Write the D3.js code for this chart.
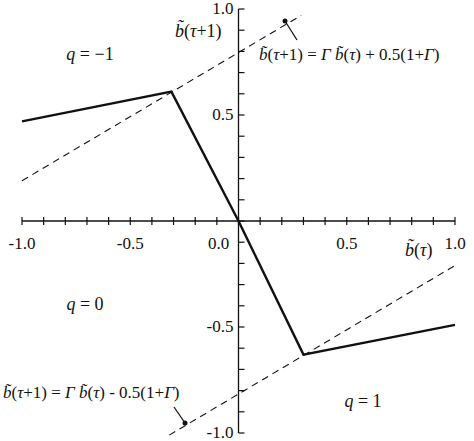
<!DOCTYPE html>
<html><head><meta charset="utf-8">
<script src="https://cdn.jsdelivr.net/npm/d3@7"></script>
<style>body{margin:0;background:#fff}text{font-family:"Liberation Serif","Times New Roman",serif;fill:#111}</style>
</head><body><svg id="c" width="474" height="441"></svg>
<script>
const solidX = [-1, -0.31, 0, 0.30, 1];
const solidY = [0.47, 0.61, 0, -0.63, -0.49];
const upperX = [-1, 0.29];
const upperY = [0.19, 0.97];
const lowerX = [-0.32, 1];
const lowerY = [-1.01, -0.21];
const xTickLabels = ["-1.0", "-0.5", "0.5", "1.0"];
const yTickLabels = ["1.0", "0.5", "-0.5", "-1.0"];

const svg = d3.select("#c");
const x = d3.scaleLinear().domain([-1, 1]).range([22, 455]);
const y = d3.scaleLinear().domain([-1, 1]).range([433, 9]);
const ink = "#111";

const line = d3.line().x(d => x(d[0])).y(d => y(d[1]));

// axes
svg.append("line").attr("x1", x(-1)).attr("x2", x(1)).attr("y1", y(0)).attr("y2", y(0)).attr("stroke", ink).attr("stroke-width", 1.3);
svg.append("line").attr("x1", x(0)).attr("x2", x(0)).attr("y1", y(1)).attr("y2", y(-1)).attr("stroke", ink).attr("stroke-width", 1.3);
const ticks = d3.range(-10, 11).map(i => i / 10);
svg.selectAll(".xt").data(ticks).join("line")
  .attr("x1", d => x(d)).attr("x2", d => x(d)).attr("y1", y(0) - 4).attr("y2", y(0) + 4)
  .attr("stroke", ink).attr("stroke-width", 1.2);
svg.selectAll(".yt").data(ticks).join("line")
  .attr("x1", x(0)).attr("x2", x(0) + 6)
  .attr("y1", d => y(d)).attr("y2", d => y(d)).attr("stroke", ink).attr("stroke-width", 1.2);
svg.selectAll(".xl").data(xTickLabels).join("text")
  .attr("x", d => x(+d)).attr("y", y(0) + 28).attr("text-anchor", "middle").attr("font-size", 17).text(d => d);
svg.append("text").attr("x", x(0) - 20).attr("y", y(0) + 28).attr("text-anchor", "middle").attr("font-size", 17).text("0.0");
svg.selectAll(".yl").data(yTickLabels).join("text")
  .attr("x", x(0) - 5).attr("y", d => y(+d) + 5).attr("text-anchor", "end").attr("font-size", 17).text(d => d);

// lines
svg.append("path").datum(upperX.map((v, i) => [v, upperY[i]])).attr("d", line)
  .attr("fill", "none").attr("stroke", ink).attr("stroke-width", 1.1).attr("stroke-dasharray", "7,5");
svg.append("path").datum(lowerX.map((v, i) => [v, lowerY[i]])).attr("d", line)
  .attr("fill", "none").attr("stroke", ink).attr("stroke-width", 1.1).attr("stroke-dasharray", "7,5");
svg.append("path").datum(solidX.map((v, i) => [v, solidY[i]])).attr("d", line)
  .attr("fill", "none").attr("stroke", ink).attr("stroke-width", 2.4);

// pointers
svg.append("circle").attr("cx", 285).attr("cy", 21).attr("r", 2.5).attr("fill", ink);
svg.append("line").attr("x1", 285).attr("y1", 21).attr("x2", 297).attr("y2", 40).attr("stroke", ink).attr("stroke-width", 1.3);
svg.append("circle").attr("cx", 185).attr("cy", 423).attr("r", 2.5).attr("fill", ink);
svg.append("line").attr("x1", 185).attr("y1", 423).attr("x2", 174).attr("y2", 407).attr("stroke", ink).attr("stroke-width", 1.3);

function label(tx, ty, html, size, anchor) {
  svg.append("text").attr("x", tx).attr("y", ty).attr("font-size", size)
    .attr("text-anchor", anchor || "start").html(html);
}
const bt = "<tspan font-style='italic'>b̃</tspan>";
label(175, 37, bt + "(<tspan font-style='italic'>τ</tspan>+1)", 18);
label(259, 60, bt + "(<tspan font-style='italic'>τ</tspan>+1) = <tspan font-style='italic'>Γ</tspan> " + bt + "(<tspan font-style='italic'>τ</tspan>) + 0.5(1+<tspan font-style='italic'>Γ</tspan>)", 17);
label(3, 398, bt + "(<tspan font-style='italic'>τ</tspan>+1) = <tspan font-style='italic'>Γ</tspan> " + bt + "(<tspan font-style='italic'>τ</tspan>) - 0.5(1+<tspan font-style='italic'>Γ</tspan>)", 17);
label(405, 256, bt + "(<tspan font-style='italic'>τ</tspan>)", 18);
label(90, 60, "<tspan font-style='italic'>q</tspan> = −1", 18, "middle");
label(85, 310, "<tspan font-style='italic'>q</tspan> = 0", 18, "middle");
label(363, 407, "<tspan font-style='italic'>q</tspan> = 1", 18, "middle");
</script></body></html>
